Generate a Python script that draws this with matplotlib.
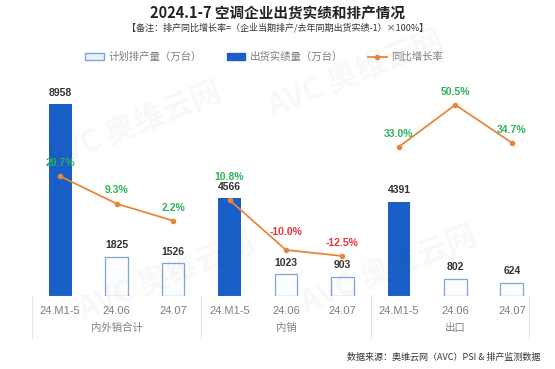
import matplotlib
matplotlib.use("Agg")
import matplotlib.pyplot as plt
from matplotlib.patches import Patch
from matplotlib.lines import Line2D
import numpy as np

plt.rcParams['font.family'] = ['Noto Sans CJK SC', 'DejaVu Sans']

periods = ["24.M1-5", "24.06", "24.07"]
groups = ["内外销合计", "内销", "出口"]
# volume (万台); first of each group is actual shipment, the rest are planned production
volumes = [8958, 1825, 1526, 4566, 1023, 903, 4391, 802, 624]
is_actual = [True, False, False, True, False, False, True, False, False]
# year-on-year growth (%)
growth = [20.7, 9.3, 2.2, 10.8, -10.0, -12.5, 33.0, 50.5, 34.7]

blue = '#1a5fc8'
light_edge = '#7ea5d6'
orange = '#e8873a'
green = '#2bb35e'
red = '#e8323c'
num_font = ['Liberation Sans', 'DejaVu Sans']

fig = plt.figure(figsize=(5.55, 3.69), dpi=100)
ax = fig.add_axes([32 / 555, 73 / 369, 508 / 555, 236 / 369])
ax2 = ax.twinx()

x = np.arange(len(volumes))
for xi, v, act in zip(x, volumes, is_actual):
    if act:
        ax.bar(xi, v, width=0.4, color=blue, zorder=2)
    else:
        ax.bar(xi, v, width=0.4, facecolor='#fbfdff', edgecolor=light_edge, linewidth=0.9, zorder=2)
    ax.text(xi, v + 300, f"{v}", ha='center', va='bottom', fontsize=7.5,
            fontweight='bold', color='#333333', family=num_font)

ax.set_xlim(-0.5, 8.5)
ax.set_ylim(0, 11012)
ax2.set_ylim(-29.17, 69.17)
for a in (ax, ax2):
    for s in a.spines.values():
        s.set_visible(False)
    a.set_yticks([])

ax.axhline(0, color='#d9d9d9', lw=0.8, zorder=3)
ax.set_xticks(x)
ax.set_xticklabels(periods * 3, fontsize=8, color='#7f7f7f', family=num_font)
ax.tick_params(axis='x', length=0, pad=7)

trans = ax.get_xaxis_transform()
for b in [-0.5, 2.5, 5.5, 8.3]:
    ax.plot([b, b], [0, -0.18], color='#e3e3e3', lw=0.8, transform=trans, clip_on=False)
for gi, g in enumerate(groups):
    ax.text(gi * 3 + 1, -0.135, g, ha='center', va='center', fontsize=7.5,
            color='#7f7f7f', transform=trans)

# growth line, one segment per group
for gi in range(3):
    xs = x[gi * 3:gi * 3 + 3]
    ys = growth[gi * 3:gi * 3 + 3]
    ax2.plot(xs, ys, color=orange, lw=1.3, marker='o', markersize=3, zorder=4)
    for xi, yi in zip(xs, ys):
        c = green if yi >= 0 else red
        off = 5.5
        if xi == 3:
            off = 9.5
        if xi == 4:
            off = 7.5
        ax2.text(xi, yi + off, f"{yi:.1f}%", ha='center', va='center', fontsize=7.5,
                 fontweight='bold', color=c, family=num_font, zorder=5)

# faint watermarks
for wx, wy, s in [(0.24, 0.66, "AVC 奥维云网"), (0.64, 0.80, "AVC 奥维云网"),
                  (0.30, 0.25, "AVC 奥维云网"), (0.70, 0.27, "AVC 奥维云网")]:
    fig.text(wx, wy, s, fontsize=22, fontweight='bold', color='#000000', alpha=0.03,
             rotation=22, ha='center', va='center', style='italic')

fig.text(0.5, 1 - 14 / 369, "2024.1-7 空调企业出货实绩和排产情况", ha='center', va='center',
         fontsize=10.5, fontweight='bold', color='#222222')
fig.text(0.5, 1 - 28 / 369, "【备注：排产同比增长率=（企业当期排产/去年同期出货实绩-1）×100%】",
         ha='center', va='center', fontsize=6.5, color='#333333')

handles = [Patch(facecolor='#eaf2fb', edgecolor=light_edge, label='计划排产量（万台）'),
           Patch(facecolor=blue, edgecolor=blue, label='出货实绩量（万台）'),
           Line2D([0], [0], color=orange, lw=1.3, marker='o', markersize=3, label='同比增长率')]
leg = fig.legend(handles=handles, loc='center', bbox_to_anchor=(264 / 555, 1 - 57 / 369), ncol=3,
                 frameon=False, fontsize=7.5, handlelength=1.8, handleheight=0.6,
                 columnspacing=2.4, handletextpad=0.4)
for t in leg.get_texts():
    t.set_color('#7f7f7f')

fig.text(540 / 555, 1 - 357 / 369, "数据来源：奥维云网（AVC）PSI & 排产监测数据", ha='right', va='center',
         fontsize=6.5, color='#333333')

fig.savefig("out.png", dpi=100, facecolor='white')
